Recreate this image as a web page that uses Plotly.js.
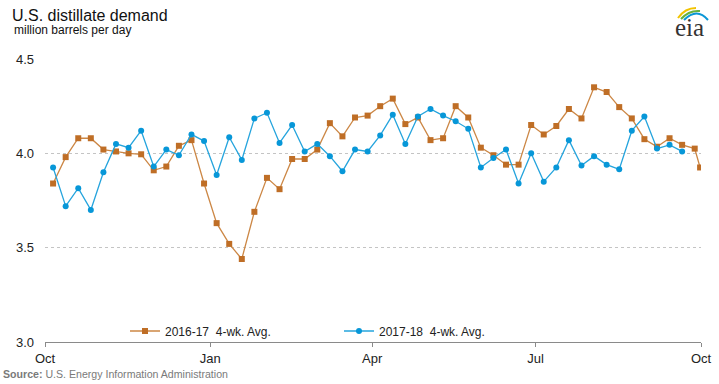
<!DOCTYPE html>
<html>
<head>
<meta charset="utf-8">
<script src="https://cdn.plot.ly/plotly-3.0.1.min.js"></script>
<style>html,body{margin:0;padding:0;background:#fff;}#chart{width:719px;height:384px;}</style>
</head>
<body>
<div id="chart"></div>
<script>
// Weekly observation dates on a common Oct–Sep season axis
var seasonStart = '2016-10-05T12:00:00Z';
var lastOrangeDate = '2017-09-30T12:00:00Z';

// 2016-17 4-week average (million barrels per day)
var demand1617 = [
  3.84, 3.98, 4.08, 4.08, 4.02, 4.01, 4.00, 3.995, 3.91, 3.93,
  4.04, 4.07, 3.84, 3.63, 3.52, 3.44, 3.69, 3.87, 3.81, 3.97,
  3.97, 4.02, 4.16, 4.09, 4.19, 4.20, 4.25, 4.29, 4.155, 4.19,
  4.07, 4.08, 4.25, 4.19, 4.03, 3.99, 3.94, 3.94, 4.15, 4.10,
  4.145, 4.235, 4.185, 4.35, 4.325, 4.245, 4.185, 4.075, 4.035, 4.08,
  4.045, 4.025, 3.925
];

// 2017-18 4-week average (million barrels per day)
var demand1718 = [
  3.925, 3.72, 3.815, 3.70, 3.90, 4.05, 4.03, 4.12, 3.93, 4.02,
  3.99, 4.10, 4.065, 3.885, 4.085, 3.965, 4.185, 4.215, 4.055, 4.15,
  4.01, 4.05, 3.985, 3.905, 4.02, 4.01, 4.095, 4.205, 4.05, 4.195,
  4.235, 4.20, 4.17, 4.13, 3.925, 3.975, 4.02, 3.84, 4.00, 3.85,
  3.925, 4.07, 3.935, 3.985, 3.94, 3.915, 4.12, 4.195, 4.025, 4.045,
  4.01
];

var seriesNames = ['2016-17\u00a0\u00a04-wk. Avg.', '2017-18\u00a0\u00a04-wk. Avg.'];
var tickDates = ['2016-10-01', '2017-01-01', '2017-04-01', '2017-07-01', '2017-10-01'];
var tickLabels = ['Oct', 'Jan', 'Apr', 'Jul', 'Oct'];
var yTicks = [3.0, 3.5, 4.0, 4.5];
var yTickLabels = ['3.0', '3.5', '4.0', '4.5'];

function weekDates(n) {
  var out = [];
  var t0 = Date.parse(seasonStart);
  for (var i = 0; i < n; i++) out.push(new Date(t0 + i * 7 * 86400000).toISOString());
  return out;
}
var x1617 = weekDates(demand1617.length - 1).concat([lastOrangeDate]);
var x1718 = weekDates(demand1718.length);

var ORANGE = '#BF6E26', ORANGE_LINE = '#CC8745';
var BLUE = '#0797D8', BLUE_LINE = '#25A4DD';
var FONT = 'Liberation Sans, Arial, sans-serif';

var traces = [
  {x: x1617, y: demand1617, name: seriesNames[0], type: 'scatter', mode: 'lines+markers',
   line: {color: ORANGE_LINE, width: 1.3}, marker: {symbol: 'square', size: 6, color: ORANGE}},
  {x: x1718, y: demand1718, name: seriesNames[1], type: 'scatter', mode: 'lines+markers',
   line: {color: BLUE_LINE, width: 1.3}, marker: {symbol: 'circle', size: 6, color: BLUE}}
];

// pixel -> paper helpers for decorations
var L = 45, R = 18, T = 59, B = 42, W = 719 - L - R, H = 384 - T - B;
function px(x) { return (x - L) / W; }
function py(y) { return (384 - B - y) / H; }
function arc(x0, y0, cx, cy, x1, y1) {
  return 'M' + px(x0) + ',' + py(y0) + ' Q' + px(cx) + ',' + py(cy) + ' ' + px(x1) + ',' + py(y1);
}

var layout = {
  width: 719, height: 384,
  margin: {l: L, r: R, t: T, b: B},
  paper_bgcolor: '#ffffff', plot_bgcolor: '#ffffff',
  font: {family: FONT, size: 13, color: '#222'},
  showlegend: true,
  legend: {orientation: 'h', x: px(125), xanchor: 'left', y: py(331), yanchor: 'middle',
           bgcolor: 'rgba(0,0,0,0)', font: {size: 12, color: '#222'},
           entrywidth: 169, entrywidthmode: 'pixels', itemwidth: 30},
  xaxis: {type: 'date', range: ['2016-10-01', '2017-10-01'],
          tickvals: tickDates, ticktext: tickLabels,
          showgrid: false, zeroline: false,
          showline: true, linecolor: '#8a8a8a', linewidth: 1.3,
          ticks: 'outside', ticklen: 4, tickcolor: '#8a8a8a', tickwidth: 1,
          tickfont: {size: 13, color: '#222'}, fixedrange: true},
  yaxis: {range: [3.0, 4.5], tickvals: yTicks, ticktext: yTickLabels,
          showgrid: true, gridcolor: '#c4c4c4', griddash: 'dot', gridwidth: 1,
          zeroline: false, showline: false, ticks: '',
          ticklabelstandoff: 10,
          tickfont: {size: 13, color: '#222'}, fixedrange: true},
  annotations: [
    {text: 'U.S. distillate demand', xref: 'paper', yref: 'paper', x: px(10), y: py(15.5),
     xanchor: 'left', yanchor: 'middle', showarrow: false, font: {size: 16, color: '#111'}},
    {text: 'million barrels per day', xref: 'paper', yref: 'paper', x: px(12), y: py(30.5),
     xanchor: 'left', yanchor: 'middle', showarrow: false, font: {size: 12, color: '#111'}},
    {text: '<b>Source:</b> U.S. Energy Information Administration', xref: 'paper', yref: 'paper',
     x: px(1), y: py(374), xanchor: 'left', yanchor: 'middle', showarrow: false,
     font: {size: 10.6, color: '#7a7a7a'}},
    {text: 'eia', xref: 'paper', yref: 'paper', x: px(689), y: py(27), xanchor: 'center', yanchor: 'middle',
     showarrow: false, font: {family: 'Liberation Serif, Times New Roman, serif', size: 25, color: '#333'}}
  ],
  shapes: [
    {type: 'path', xref: 'paper', yref: 'paper', path: arc(678, 18, 685, 8, 696, 8), line: {color: '#F2C300', width: 2}},
    {type: 'path', xref: 'paper', yref: 'paper', path: arc(681, 19, 689, 10, 700, 11), line: {color: '#69B13C', width: 2}},
    {type: 'path', xref: 'paper', yref: 'paper', path: arc(684, 20, 697, 7, 708, 20), line: {color: '#0A96D6', width: 2}}
  ]
};

Plotly.newPlot('chart', traces, layout, {displayModeBar: false, staticPlot: true});
</script>
</body>
</html>
